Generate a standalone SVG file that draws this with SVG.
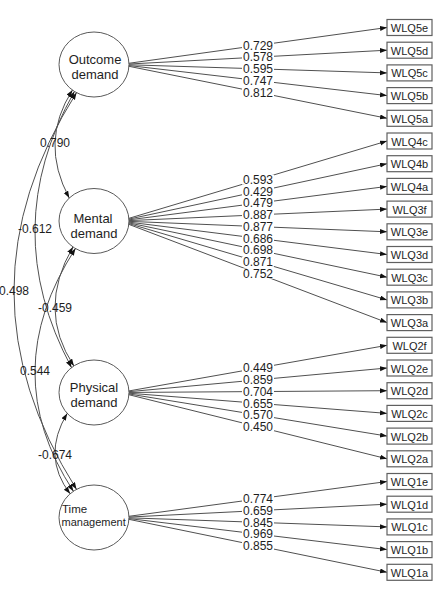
<svg xmlns="http://www.w3.org/2000/svg" width="441" height="599" viewBox="0 0 441 599">
<defs>
<style>
.ln{fill:none;stroke:#505050;stroke-width:1}
.cv{fill:none;stroke:#505050;stroke-width:1}
.lat{fill:#fff;stroke:#5a5a5a;stroke-width:1}
.box{fill:#fff;stroke:#606060;stroke-width:1.2}
text{font-family:"Liberation Sans",Arial,sans-serif;fill:#1e1e1e}
.lt{font-size:13px;text-anchor:middle}
.bt{font-size:11px;text-anchor:middle}
.el{font-size:12px;text-anchor:middle}
.bg{fill:#fff}
</style>
<marker id="ah" markerUnits="userSpaceOnUse" markerWidth="8" markerHeight="6" refX="7" refY="2.5" orient="auto-start-reverse" viewBox="0 0 8 6">
<path d="M0,0 L7,2.5 L0,5 z" fill="#111"/>
</marker>
</defs>
<rect width="441" height="599" fill="#fff"/>
<g id="connectors">
<!-- loadings -->
<path class="ln" marker-end="url(#ah)" d="M120,64.5 L387,27.5"/>
<path class="ln" marker-end="url(#ah)" d="M120,64.5 L387,50.2"/>
<path class="ln" marker-end="url(#ah)" d="M120,64.5 L387,72.9"/>
<path class="ln" marker-end="url(#ah)" d="M120,64.5 L387,95.6"/>
<path class="ln" marker-end="url(#ah)" d="M120,64.5 L387,118.3"/>
<path class="ln" marker-end="url(#ah)" d="M120,221 L387,141"/>
<path class="ln" marker-end="url(#ah)" d="M120,221 L387,163.7"/>
<path class="ln" marker-end="url(#ah)" d="M120,221 L387,186.4"/>
<path class="ln" marker-end="url(#ah)" d="M120,221 L387,209.1"/>
<path class="ln" marker-end="url(#ah)" d="M120,221 L387,231.8"/>
<path class="ln" marker-end="url(#ah)" d="M120,221 L387,254.5"/>
<path class="ln" marker-end="url(#ah)" d="M120,221 L387,277.2"/>
<path class="ln" marker-end="url(#ah)" d="M120,221 L387,299.9"/>
<path class="ln" marker-end="url(#ah)" d="M120,221 L387,322.6"/>
<path class="ln" marker-end="url(#ah)" d="M120,392.5 L387,345.3"/>
<path class="ln" marker-end="url(#ah)" d="M120,392.5 L387,368"/>
<path class="ln" marker-end="url(#ah)" d="M120,392.5 L387,390.7"/>
<path class="ln" marker-end="url(#ah)" d="M120,392.5 L387,413.4"/>
<path class="ln" marker-end="url(#ah)" d="M120,392.5 L387,436.1"/>
<path class="ln" marker-end="url(#ah)" d="M120,392.5 L387,458.8"/>
<path class="ln" marker-end="url(#ah)" d="M120,517.5 L387,481.5"/>
<path class="ln" marker-end="url(#ah)" d="M120,517.5 L387,504.2"/>
<path class="ln" marker-end="url(#ah)" d="M120,517.5 L387,526.9"/>
<path class="ln" marker-end="url(#ah)" d="M120,517.5 L387,549.6"/>
<path class="ln" marker-end="url(#ah)" d="M120,517.5 L387,572.3"/>
<!-- loading labels -->
<g>
<rect class="bg" x="242" y="40.4" width="32" height="10"/><text class="el" x="258" y="49.7">0.729</text>
<rect class="bg" x="242" y="52.1" width="32" height="10"/><text class="el" x="258" y="61.4">0.578</text>
<rect class="bg" x="242" y="63.8" width="32" height="10"/><text class="el" x="258" y="73.1">0.595</text>
<rect class="bg" x="242" y="75.6" width="32" height="10"/><text class="el" x="258" y="84.9">0.747</text>
<rect class="bg" x="242" y="87.3" width="32" height="10"/><text class="el" x="258" y="96.6">0.812</text>
<rect class="bg" x="242" y="174.6" width="32" height="10"/><text class="el" x="258" y="183.9">0.593</text>
<rect class="bg" x="242" y="186.4" width="32" height="10"/><text class="el" x="258" y="195.7">0.429</text>
<rect class="bg" x="242" y="198.1" width="32" height="10"/><text class="el" x="258" y="207.4">0.479</text>
<rect class="bg" x="242" y="209.9" width="32" height="10"/><text class="el" x="258" y="219.2">0.887</text>
<rect class="bg" x="242" y="221.6" width="32" height="10"/><text class="el" x="258" y="230.9">0.877</text>
<rect class="bg" x="242" y="233.3" width="32" height="10"/><text class="el" x="258" y="242.6">0.686</text>
<rect class="bg" x="242" y="245.1" width="32" height="10"/><text class="el" x="258" y="254.4">0.698</text>
<rect class="bg" x="242" y="256.8" width="32" height="10"/><text class="el" x="258" y="266.1">0.871</text>
<rect class="bg" x="242" y="268.5" width="32" height="10"/><text class="el" x="258" y="277.8">0.752</text>
<rect class="bg" x="242" y="363.1" width="32" height="10"/><text class="el" x="258" y="372.4">0.449</text>
<rect class="bg" x="242" y="374.8" width="32" height="10"/><text class="el" x="258" y="384.1">0.859</text>
<rect class="bg" x="242" y="386.6" width="32" height="10"/><text class="el" x="258" y="395.9">0.704</text>
<rect class="bg" x="242" y="398.3" width="32" height="10"/><text class="el" x="258" y="407.6">0.655</text>
<rect class="bg" x="242" y="410" width="32" height="10"/><text class="el" x="258" y="419.3">0.570</text>
<rect class="bg" x="242" y="421.8" width="32" height="10"/><text class="el" x="258" y="431.1">0.450</text>
<rect class="bg" x="242" y="493.9" width="32" height="10"/><text class="el" x="258" y="503.2">0.774</text>
<rect class="bg" x="242" y="505.6" width="32" height="10"/><text class="el" x="258" y="514.9">0.659</text>
<rect class="bg" x="242" y="517.4" width="32" height="10"/><text class="el" x="258" y="526.7">0.845</text>
<rect class="bg" x="242" y="529.1" width="32" height="10"/><text class="el" x="258" y="538.4">0.969</text>
<rect class="bg" x="242" y="540.8" width="32" height="10"/><text class="el" x="258" y="550.1">0.855</text>
</g>
</g>
<g id="node-outcome"><ellipse class="lat" cx="94" cy="64.5" rx="35" ry="32.5"/><text class="lt" x="95" y="63.5">Outcome</text><text class="lt" x="95" y="79">demand</text></g>
<g id="node-mental"><ellipse class="lat" cx="94" cy="221" rx="35" ry="32.5"/><text class="lt" x="93" y="222.5">Mental</text><text class="lt" x="94" y="238">demand</text></g>
<g id="node-physical"><ellipse class="lat" cx="94" cy="392.5" rx="35" ry="32.5"/><text class="lt" x="94" y="391.5">Physical</text><text class="lt" x="94" y="406.5">demand</text></g>
<g id="node-time"><ellipse class="lat" cx="94" cy="517.5" rx="35" ry="32.5"/><text style="font-size:11.5px" x="62" y="512.5">Time</text><text style="font-size:11px" x="61.5" y="526">management</text></g>
<g id="node-WLQ5e"><rect class="box" x="387" y="19.5" width="45" height="16"/><text class="bt" x="409.5" y="32">WLQ5e</text></g>
<g id="node-WLQ5d"><rect class="box" x="387" y="42.2" width="45" height="16"/><text class="bt" x="409.5" y="54.7">WLQ5d</text></g>
<g id="node-WLQ5c"><rect class="box" x="387" y="64.9" width="45" height="16"/><text class="bt" x="409.5" y="77.4">WLQ5c</text></g>
<g id="node-WLQ5b"><rect class="box" x="387" y="87.6" width="45" height="16"/><text class="bt" x="409.5" y="100.1">WLQ5b</text></g>
<g id="node-WLQ5a"><rect class="box" x="387" y="110.3" width="45" height="16"/><text class="bt" x="409.5" y="122.8">WLQ5a</text></g>
<g id="node-WLQ4c"><rect class="box" x="387" y="133" width="45" height="16"/><text class="bt" x="409.5" y="145.5">WLQ4c</text></g>
<g id="node-WLQ4b"><rect class="box" x="387" y="155.7" width="45" height="16"/><text class="bt" x="409.5" y="168.2">WLQ4b</text></g>
<g id="node-WLQ4a"><rect class="box" x="387" y="178.4" width="45" height="16"/><text class="bt" x="409.5" y="190.9">WLQ4a</text></g>
<g id="node-WLQ3f"><rect class="box" x="387" y="201.1" width="45" height="16"/><text class="bt" x="409.5" y="213.6">WLQ3f</text></g>
<g id="node-WLQ3e"><rect class="box" x="387" y="223.8" width="45" height="16"/><text class="bt" x="409.5" y="236.3">WLQ3e</text></g>
<g id="node-WLQ3d"><rect class="box" x="387" y="246.5" width="45" height="16"/><text class="bt" x="409.5" y="259">WLQ3d</text></g>
<g id="node-WLQ3c"><rect class="box" x="387" y="269.2" width="45" height="16"/><text class="bt" x="409.5" y="281.7">WLQ3c</text></g>
<g id="node-WLQ3b"><rect class="box" x="387" y="291.9" width="45" height="16"/><text class="bt" x="409.5" y="304.4">WLQ3b</text></g>
<g id="node-WLQ3a"><rect class="box" x="387" y="314.6" width="45" height="16"/><text class="bt" x="409.5" y="327.1">WLQ3a</text></g>
<g id="node-WLQ2f"><rect class="box" x="387" y="337.3" width="45" height="16"/><text class="bt" x="409.5" y="349.8">WLQ2f</text></g>
<g id="node-WLQ2e"><rect class="box" x="387" y="360" width="45" height="16"/><text class="bt" x="409.5" y="372.5">WLQ2e</text></g>
<g id="node-WLQ2d"><rect class="box" x="387" y="382.7" width="45" height="16"/><text class="bt" x="409.5" y="395.2">WLQ2d</text></g>
<g id="node-WLQ2c"><rect class="box" x="387" y="405.4" width="45" height="16"/><text class="bt" x="409.5" y="417.9">WLQ2c</text></g>
<g id="node-WLQ2b"><rect class="box" x="387" y="428.1" width="45" height="16"/><text class="bt" x="409.5" y="440.6">WLQ2b</text></g>
<g id="node-WLQ2a"><rect class="box" x="387" y="450.8" width="45" height="16"/><text class="bt" x="409.5" y="463.3">WLQ2a</text></g>
<g id="node-WLQ1e"><rect class="box" x="387" y="473.5" width="45" height="16"/><text class="bt" x="409.5" y="486">WLQ1e</text></g>
<g id="node-WLQ1d"><rect class="box" x="387" y="496.2" width="45" height="16"/><text class="bt" x="409.5" y="508.7">WLQ1d</text></g>
<g id="node-WLQ1c"><rect class="box" x="387" y="518.9" width="45" height="16"/><text class="bt" x="409.5" y="531.4">WLQ1c</text></g>
<g id="node-WLQ1b"><rect class="box" x="387" y="541.6" width="45" height="16"/><text class="bt" x="409.5" y="554.1">WLQ1b</text></g>
<g id="node-WLQ1a"><rect class="box" x="387" y="564.3" width="45" height="16"/><text class="bt" x="409.5" y="576.8">WLQ1a</text></g>
<g id="covariances">
<path class="cv" marker-start="url(#ah)" marker-end="url(#ah)" d="M72.45,90.1 Q39.15,141.94 69.25,198.02"/>
<path class="cv" marker-start="url(#ah)" marker-end="url(#ah)" d="M74.43,91.44 Q-2.97,228.48 71.5,367.6"/>
<path class="cv" marker-start="url(#ah)" marker-end="url(#ah)" d="M76.5,92.65 Q-48.5,291 76.5,489.35"/>
<path class="cv" marker-start="url(#ah)" marker-end="url(#ah)" d="M72.93,246.96 Q36.58,309.57 73.9,365.9"/>
<path class="cv" marker-start="url(#ah)" marker-end="url(#ah)" d="M75.45,248.56 Q-4.44,372.12 73.42,491.2"/>
<path class="cv" marker-start="url(#ah)" marker-end="url(#ah)" d="M67.19,413.4 Q41.34,456.43 70.13,493.73"/>
<text class="el" x="55" y="147.3">0.790</text>
<text class="el" x="35" y="233.3">-0.612</text>
<text class="el" x="14" y="295.3">0.498</text>
<text class="el" x="55" y="312.3">-0.459</text>
<text class="el" x="35" y="375.3">0.544</text>
<text class="el" x="55" y="459.3">-0.674</text>
</g>
</svg>
